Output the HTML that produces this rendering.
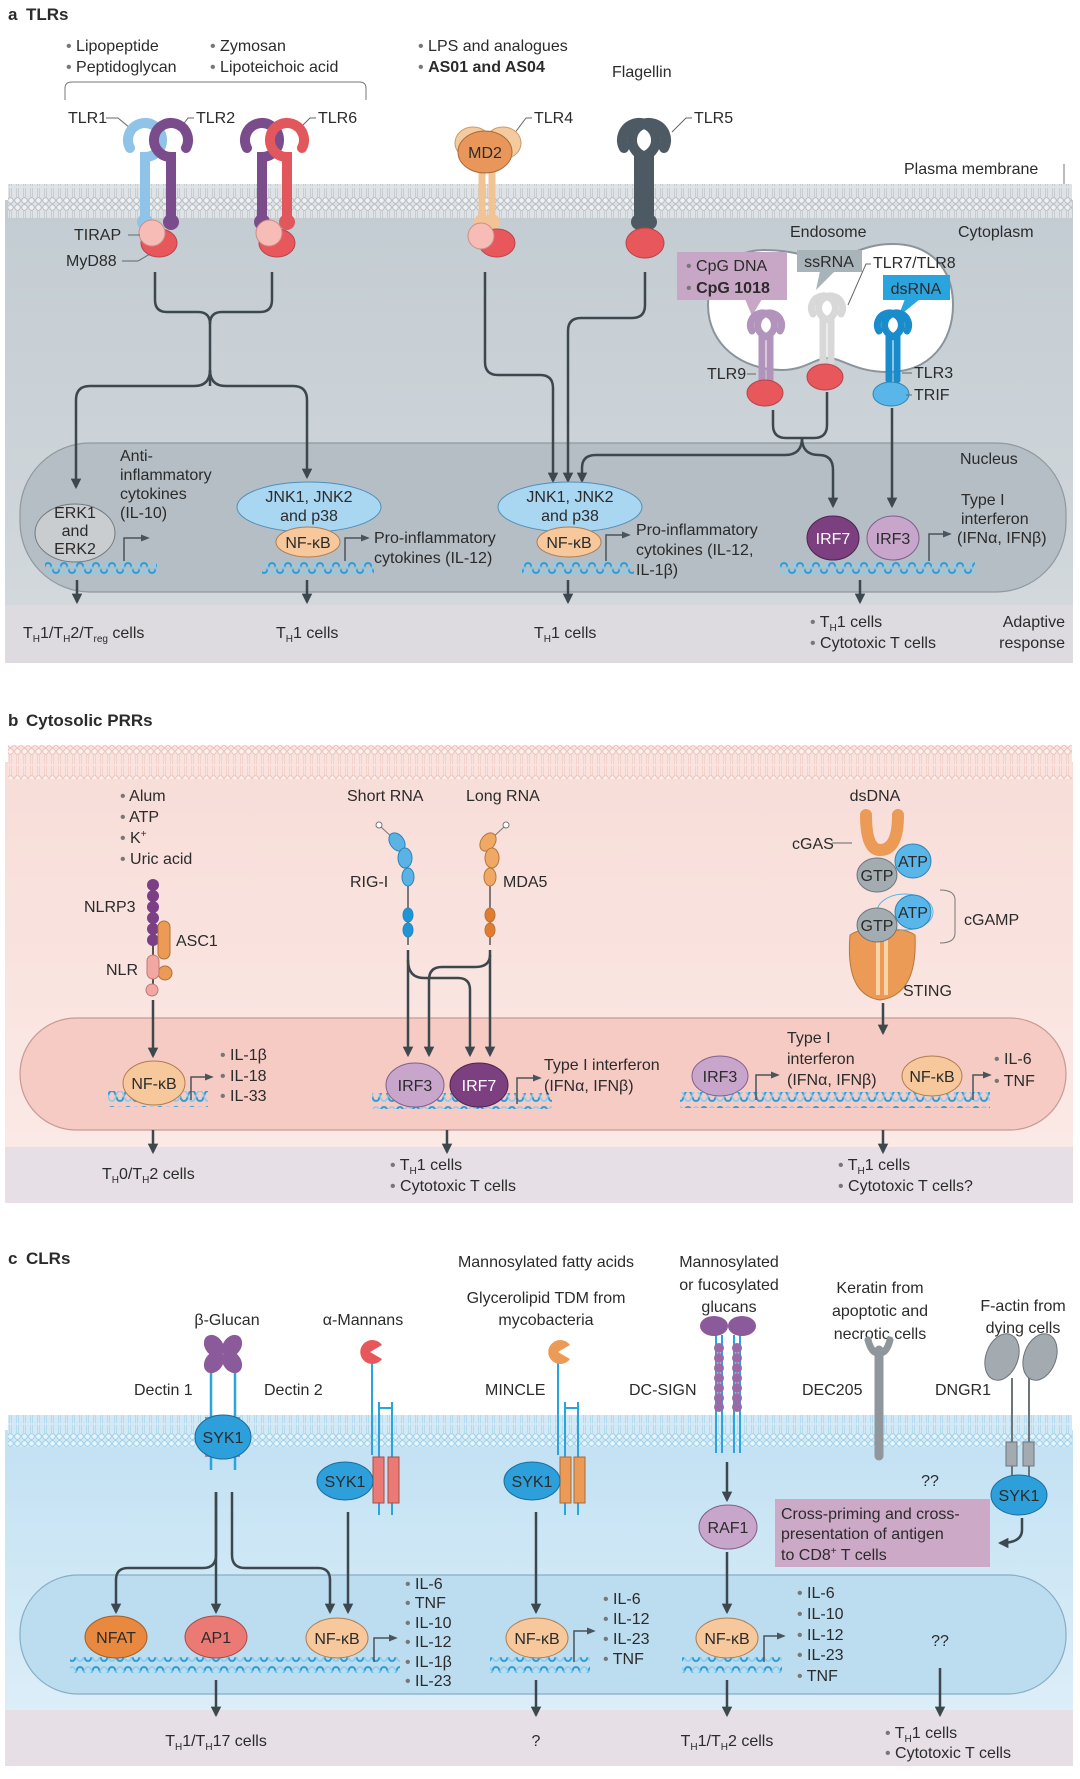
<!DOCTYPE html>
<html><head><meta charset="utf-8"><style>
html,body{margin:0;padding:0;background:#fff;}
svg{display:block;font-family:"Liberation Sans",sans-serif;}
text{fill:#2b2b2b;font-size:16px;}
.h{font-size:17px;font-weight:bold;}
.b{font-weight:bold;}
.c{text-anchor:middle;}
.s{font-size:10px;}
</style></head><body>
<svg width="1080" height="1779" viewBox="0 0 1080 1779" xmlns="http://www.w3.org/2000/svg">
<defs>
<marker id="ar" viewBox="0 0 10 10" refX="8" refY="5" markerWidth="4.2" markerHeight="4.2" orient="auto"><path d="M0,0 L10,5 L0,10 z" fill="#3d474e"/></marker>
<marker id="sa" viewBox="0 0 10 10" refX="8" refY="5" markerWidth="6" markerHeight="6" orient="auto"><path d="M0,1 L10,5 L0,9 z" fill="#4a545b"/></marker>
<pattern id="memA" width="7" height="34" patternUnits="userSpaceOnUse"><rect width="7" height="34" fill="#dfe3e5"/><circle cx="3.5" cy="3.5" r="2.8" fill="#eef0f1" stroke="#aab2b8" stroke-width="0.8"/><circle cx="3.5" cy="30.5" r="2.8" fill="#eef0f1" stroke="#aab2b8" stroke-width="0.8"/><path d="M2.5,7 V16 M4.5,7 V16 M2.5,18 V27 M4.5,18 V27" stroke="#b8bfc4" stroke-width="0.6"/></pattern>
<pattern id="memB" width="7" height="34" patternUnits="userSpaceOnUse"><rect width="7" height="34" fill="#fae3df"/><circle cx="3.5" cy="3.5" r="2.8" fill="#fdf0ed" stroke="#e8b8b0" stroke-width="0.8"/><circle cx="3.5" cy="30.5" r="2.8" fill="#fdf0ed" stroke="#e8b8b0" stroke-width="0.8"/><path d="M2.5,7 V16 M4.5,7 V16 M2.5,18 V27 M4.5,18 V27" stroke="#efc7c0" stroke-width="0.6"/></pattern>
<pattern id="memC" width="7" height="32" patternUnits="userSpaceOnUse"><rect width="7" height="32" fill="#d3eaf6"/><circle cx="3.5" cy="3.5" r="2.8" fill="#e8f4fb" stroke="#8cc8e6" stroke-width="0.8"/><circle cx="3.5" cy="28.5" r="2.8" fill="#e8f4fb" stroke="#8cc8e6" stroke-width="0.8"/><path d="M2.5,7 V15 M4.5,7 V15 M2.5,17 V25 M4.5,17 V25" stroke="#9fd0ea" stroke-width="0.6"/></pattern>
<pattern id="dna" width="16" height="16" patternUnits="userSpaceOnUse"><path d="M0,3 C5,3 3,13 8,13 C13,13 11,3 16,3" fill="none" stroke="#2e9fd8" stroke-width="2"/><path d="M0,13 C5,13 3,3 8,3 C13,3 11,13 16,13" fill="none" stroke="#8ccbeb" stroke-width="1.6"/></pattern>
<linearGradient id="cytA" x1="0" y1="0" x2="0" y2="1"><stop offset="0" stop-color="#c3ccd2"/><stop offset="1" stop-color="#d2d8dc"/></linearGradient>
<linearGradient id="cytB" x1="0" y1="0" x2="0" y2="1"><stop offset="0" stop-color="#f8ddd8"/><stop offset="1" stop-color="#fbe9e6"/></linearGradient>
<linearGradient id="cytC" x1="0" y1="0" x2="0" y2="1"><stop offset="0" stop-color="#c2e1f3"/><stop offset="1" stop-color="#dceef8"/></linearGradient>
</defs>

<!-- ================= A ================= -->
<text x="8" y="20" class="h">a</text><text x="26" y="20" class="h">TLRs</text>
<rect x="5" y="200" width="1068" height="405" fill="url(#cytA)"/>
<rect x="5" y="605" width="1068" height="58" fill="#dedbe0"/>
<rect x="8" y="184" width="1064" height="34" fill="url(#memA)"/>
<text x="904" y="174">Plasma membrane</text>
<path d="M1064,164 V184" stroke="#777" stroke-width="1"/>
<rect x="20" y="443" width="1046" height="149" rx="70" fill="#b5bec5" stroke="#8f999f" stroke-width="1.2"/>
<text x="960" y="464">Nucleus</text>
<text x="958" y="237">Cytoplasm</text>

<text x="66" y="51"><tspan fill="#777">•</tspan> Lipopeptide</text>
<text x="210" y="51"><tspan fill="#777">•</tspan> Zymosan</text>
<text x="66" y="72"><tspan fill="#777">•</tspan> Peptidoglycan</text>
<text x="210" y="72"><tspan fill="#777">•</tspan> Lipoteichoic acid</text>
<path d="M65,100 V88 Q65,82 72,82 H359 Q366,82 366,88 V100" fill="none" stroke="#777" stroke-width="1"/>
<text x="418" y="51"><tspan fill="#777">•</tspan> LPS and analogues</text>
<text x="418" y="72"><tspan fill="#777">•</tspan> <tspan class="b">AS01 and AS04</tspan></text>
<text x="612" y="77">Flagellin</text>

<text x="68" y="123">TLR1</text><path d="M106,118 H118 L130,128" fill="none" stroke="#666" stroke-width="1"/>
<text x="196" y="123">TLR2</text><path d="M194,118 H188 L182,126" fill="none" stroke="#666" stroke-width="1"/>
<text x="318" y="123">TLR6</text><path d="M316,118 H310 L300,128" fill="none" stroke="#666" stroke-width="1"/>
<text x="534" y="123">TLR4</text><path d="M532,118 H526 L514,134" fill="none" stroke="#666" stroke-width="1"/>
<text x="694" y="123">TLR5</text><path d="M692,118 H686 L672,132" fill="none" stroke="#666" stroke-width="1"/>

<!-- TLR1/2 -->
<g fill="none" stroke-linecap="round">
<path d="M145,222 V157 A17,17 0 1 0 130,148" stroke="#8fc3e8" stroke-width="10"/>
<path d="M171,222 V157 A17,17 0 1 1 186,148" stroke="#7b4c8c" stroke-width="10"/>
<path d="M262,222 V157 A17,17 0 1 0 247,148" stroke="#7b4c8c" stroke-width="10"/>
<path d="M287,222 V157 A17,17 0 1 1 302,148" stroke="#e2575b" stroke-width="10"/>
<path d="M639,222 V157 A17,17 0 1 0 624,148" stroke="#4d5a63" stroke-width="10"/>
<path d="M649,222 V157 A17,17 0 1 1 664,148" stroke="#4d5a63" stroke-width="10"/>
<path d="M482,222 V165 M492,222 V165" stroke="#f2c394" stroke-width="7"/>
</g>
<circle cx="145" cy="222" r="8" fill="#8fc3e8"/><circle cx="171" cy="222" r="8" fill="#7b4c8c"/>
<circle cx="262" cy="222" r="8" fill="#7b4c8c"/><circle cx="287" cy="222" r="8" fill="#e2575b"/>
<circle cx="639" cy="222" r="8" fill="#4d5a63"/><circle cx="649" cy="222" r="8" fill="#4d5a63"/>
<circle cx="482" cy="222" r="8" fill="#f2c394"/><circle cx="492" cy="222" r="8" fill="#f2c394"/>
<ellipse cx="473" cy="143" rx="18" ry="16" fill="#f4cb9e" stroke="#c99a6a"/><ellipse cx="503" cy="143" rx="18" ry="16" fill="#f4cb9e" stroke="#c99a6a"/>
<ellipse cx="485" cy="152" rx="27" ry="21" fill="#e8965a" stroke="#a86a38"/>
<text x="485" y="158" class="c">MD2</text>
<ellipse cx="159" cy="243" rx="18" ry="14" fill="#e8575b" stroke="#b64448"/><circle cx="152" cy="233" r="13" fill="#f7bcb5" stroke="#c98f88"/>
<ellipse cx="277" cy="243" rx="18" ry="14" fill="#e8575b" stroke="#b64448"/><circle cx="269" cy="233" r="13" fill="#f7bcb5" stroke="#c98f88"/>
<ellipse cx="497" cy="243" rx="18" ry="14" fill="#e8575b" stroke="#b64448"/><circle cx="481" cy="236" r="13" fill="#f7bcb5" stroke="#c98f88"/>
<ellipse cx="645" cy="243" rx="19" ry="15" fill="#e8575b" stroke="#b64448"/>
<text x="74" y="240">TIRAP</text><path d="M128,235 H140" stroke="#666"/>
<text x="66" y="266">MyD88</text><path d="M122,261 H138 L150,254" fill="none" stroke="#666"/>

<!-- endosome -->
<path d="M765,250 C725,250 708,280 708,305 C708,345 742,370 782,370 C805,370 815,358 828,358 C842,358 855,372 888,372 C930,372 953,342 953,305 C953,268 930,244 893,244 C862,244 850,258 828,258 C805,258 795,250 765,250 Z" fill="#fff" stroke="#8a949b" stroke-width="2"/>
<text x="790" y="237">Endosome</text>
<path d="M745,299 L752,316 L762,299 Z" fill="#c8a6c6"/><rect x="677" y="252" width="110" height="48" fill="#c8a6c6"/>
<text x="686" y="271"><tspan fill="#777">•</tspan> CpG DNA</text>
<text x="686" y="293"><tspan fill="#777">•</tspan> <tspan class="b">CpG 1018</tspan></text>
<path d="M820,271 L816,290 L835,271 Z" fill="#a9b3ba"/><rect x="797" y="250" width="65" height="22" fill="#a9b3ba"/>
<text x="829" y="267" class="c">ssRNA</text>
<path d="M905,299 L898,317 L920,299 Z" fill="#2aa4de"/><rect x="883" y="275" width="67" height="25" fill="#2aa4de"/>
<text x="916" y="294" class="c">dsRNA</text>
<text x="873" y="268">TLR7/TLR8</text><path d="M871,264 H866 L848,305" fill="none" stroke="#666"/>
<g fill="none" stroke-linecap="round">
<path d="M762,380 V337 A12,12 0 1 0 752,331" stroke="#b293bb" stroke-width="7"/>
<path d="M770,380 V337 A12,12 0 1 1 780,331" stroke="#b293bb" stroke-width="7"/>
<path d="M823,362 V320 A12,12 0 1 0 813,314" stroke="#d8d8d8" stroke-width="7"/>
<path d="M831,362 V320 A12,12 0 1 1 841,314" stroke="#d8d8d8" stroke-width="7"/>
<path d="M889,380 V337 A12,12 0 1 0 879,331" stroke="#1a8ccc" stroke-width="7"/>
<path d="M897,380 V337 A12,12 0 1 1 907,331" stroke="#1a8ccc" stroke-width="7"/>
</g>
<ellipse cx="765" cy="393" rx="18" ry="13" fill="#e8575b" stroke="#b64448"/>
<ellipse cx="825" cy="377" rx="18" ry="13" fill="#e8575b" stroke="#b64448"/>
<ellipse cx="891" cy="394" rx="18" ry="12" fill="#5ab5e8" stroke="#2b85b8"/>
<text x="707" y="379">TLR9</text><path d="M747,374 H756" stroke="#666"/>
<text x="914" y="378">TLR3</text><path d="M902,373 H912" stroke="#666"/>
<text x="914" y="400">TRIF</text><path d="M906,395 H912" stroke="#666"/>

<!-- arrows A -->
<g fill="none" stroke="#3d474e" stroke-width="2.5">
<path d="M155,272 V300 Q155,312 167,312 H198 Q210,312 210,324 V386"/>
<path d="M272,272 V300 Q272,312 260,312 H222 Q210,312 210,324"/>
<path d="M210,370 Q210,386 194,386 H90 Q76,386 76,400 V487" marker-end="url(#ar)"/>
<path d="M210,370 Q210,386 226,386 H293 Q307,386 307,400 V477" marker-end="url(#ar)"/>
<path d="M485,272 V362 Q485,375 498,375 H540 Q553,375 553,388 V481" marker-end="url(#ar)"/>
<path d="M645,272 V305 Q645,318 632,318 H581 Q568,318 568,331 V481" marker-end="url(#ar)"/>
<path d="M773,410 V425 Q773,438 786,438 H802"/>
<path d="M827,392 V425 Q827,438 814,438 H802"/>
<path d="M802,438 Q802,455 785,455 H596 Q582,455 582,468 V481" marker-end="url(#ar)"/>
<path d="M802,438 Q802,455 819,455 Q833,455 833,470 V506" marker-end="url(#ar)"/>
<path d="M892,408 V506" marker-end="url(#ar)"/>
<path d="M77,580 V602" marker-end="url(#ar)"/>
<path d="M307,580 V602" marker-end="url(#ar)"/>
<path d="M568,580 V602" marker-end="url(#ar)"/>
<path d="M860,580 V602" marker-end="url(#ar)"/>
</g>
<!-- nucleus A contents -->
<rect x="45" y="561" width="112" height="16" fill="url(#dna)"/>
<rect x="262" y="561" width="112" height="16" fill="url(#dna)"/>
<rect x="522" y="561" width="112" height="16" fill="url(#dna)"/>
<rect x="780" y="561" width="195" height="16" fill="url(#dna)"/>
<ellipse cx="75" cy="533" rx="40" ry="29" fill="#c9cdd0" stroke="#6f777c"/>
<text x="75" y="518" class="c">ERK1</text><text x="75" y="536" class="c">and</text><text x="75" y="554" class="c">ERK2</text>
<text x="120" y="461">Anti-</text><text x="120" y="480">inflammatory</text><text x="120" y="499">cytokines</text><text x="120" y="518">(IL-10)</text>
<path d="M124,561 V538 H148" fill="none" stroke="#4a545b" stroke-width="1.5" marker-end="url(#sa)"/>
<ellipse cx="309" cy="507" rx="72" ry="25" fill="#a9d6f1" stroke="#4f8fb8"/>
<text x="309" y="502" class="c">JNK1, JNK2</text><text x="309" y="521" class="c">and p38</text>
<ellipse cx="308" cy="542" rx="32" ry="15" fill="#f6c89c" stroke="#b07c4f"/><text x="308" y="548" class="c">NF-κB</text>
<path d="M345,561 V538 H368" fill="none" stroke="#4a545b" stroke-width="1.5" marker-end="url(#sa)"/>
<text x="374" y="543">Pro-inflammatory</text><text x="374" y="563">cytokines (IL-12)</text>
<ellipse cx="570" cy="507" rx="72" ry="25" fill="#a9d6f1" stroke="#4f8fb8"/>
<text x="570" y="502" class="c">JNK1, JNK2</text><text x="570" y="521" class="c">and p38</text>
<ellipse cx="569" cy="542" rx="32" ry="15" fill="#f6c89c" stroke="#b07c4f"/><text x="569" y="548" class="c">NF-κB</text>
<path d="M606,561 V535 H629" fill="none" stroke="#4a545b" stroke-width="1.5" marker-end="url(#sa)"/>
<text x="636" y="535">Pro-inflammatory</text><text x="636" y="555">cytokines (IL-12,</text><text x="636" y="575">IL-1β)</text>
<ellipse cx="833" cy="538" rx="26" ry="22" fill="#7c3f80" stroke="#4e2551"/><text x="833" y="544" class="c" style="fill:#fff">IRF7</text>
<ellipse cx="893" cy="538" rx="26" ry="22" fill="#c8a6cc" stroke="#80608a"/><text x="893" y="544" class="c">IRF3</text>
<path d="M929,561 V534 H950" fill="none" stroke="#4a545b" stroke-width="1.5" marker-end="url(#sa)"/>
<text x="961" y="505">Type I</text><text x="961" y="524">interferon</text><text x="957" y="543">(IFNα, IFNβ)</text>
<!-- band A labels -->
<text x="23" y="638">T<tspan class="s" dy="4">H</tspan><tspan dy="-4">1/T</tspan><tspan class="s" dy="4">H</tspan><tspan dy="-4">2/T</tspan><tspan class="s" dy="4">reg</tspan><tspan dy="-4"> cells</tspan></text>
<text x="276" y="638">T<tspan class="s" dy="4">H</tspan><tspan dy="-4">1 cells</tspan></text>
<text x="534" y="638">T<tspan class="s" dy="4">H</tspan><tspan dy="-4">1 cells</tspan></text>
<text x="810" y="627"><tspan fill="#777">•</tspan> T<tspan class="s" dy="4">H</tspan><tspan dy="-4">1 cells</tspan></text>
<text x="810" y="648"><tspan fill="#777">•</tspan> Cytotoxic T cells</text>
<text x="1065" y="627" style="text-anchor:end">Adaptive</text><text x="1065" y="648" style="text-anchor:end">response</text>

<!-- ================= B ================= -->
<text x="8" y="726" class="h">b</text><text x="26" y="726" class="h">Cytosolic PRRs</text>
<rect x="5" y="762" width="1068" height="385" fill="url(#cytB)"/>
<rect x="5" y="1147" width="1068" height="56" fill="#e6e0e6"/>
<rect x="8" y="745" width="1064" height="34" fill="url(#memB)"/>
<rect x="20" y="1018" width="1046" height="112" rx="56" fill="#f6cbc4" stroke="#c69a95" stroke-width="1.2"/>

<text x="120" y="801"><tspan fill="#777">•</tspan> Alum</text>
<text x="120" y="822"><tspan fill="#777">•</tspan> ATP</text>
<text x="120" y="843"><tspan fill="#777">•</tspan> K<tspan class="s" dy="-6">+</tspan></text>
<text x="120" y="864"><tspan fill="#777">•</tspan> Uric acid</text>
<path d="M153,885 V990" stroke="#222" stroke-width="1.5"/>
<g fill="#7b3f86"><circle cx="153" cy="885" r="6"/><circle cx="153" cy="896" r="6"/><circle cx="153" cy="907" r="6"/><circle cx="153" cy="918" r="6"/><circle cx="153" cy="929" r="6"/><circle cx="153" cy="940" r="6"/></g>
<rect x="158" y="921" width="12" height="38" rx="6" fill="#eb9b55" stroke="#b26f34"/>
<circle cx="165" cy="973" r="7" fill="#eb9b55" stroke="#b26f34"/>
<rect x="147" y="955" width="12" height="24" rx="6" fill="#f2a7a3" stroke="#c07a77"/>
<circle cx="152" cy="990" r="6" fill="#f2a7a3" stroke="#c07a77"/>
<text x="84" y="912">NLRP3</text><text x="176" y="946">ASC1</text><text x="106" y="975">NLR</text>
<path d="M153,1000 V1056" stroke="#3d474e" stroke-width="2.5" marker-end="url(#ar)"/>
<rect x="108" y="1091" width="100" height="16" fill="url(#dna)"/>
<ellipse cx="154" cy="1083" rx="31" ry="22" fill="#f6c89c" stroke="#b07c4f"/><text x="154" y="1089" class="c">NF-κB</text>
<path d="M191,1100 V1077 H212" fill="none" stroke="#4a545b" stroke-width="1.5" marker-end="url(#sa)"/>
<text x="220" y="1060"><tspan fill="#777">•</tspan> IL-1β</text>
<text x="220" y="1081"><tspan fill="#777">•</tspan> IL-18</text>
<text x="220" y="1101"><tspan fill="#777">•</tspan> IL-33</text>

<text x="347" y="801">Short RNA</text><text x="466" y="801">Long RNA</text>
<text x="350" y="887">RIG-I</text><text x="503" y="887">MDA5</text>
<path d="M380,826 L395,840 M505,826 L490,840" stroke="#777" stroke-width="1"/>
<circle cx="379" cy="825" r="3" fill="#fff" stroke="#777"/><circle cx="506" cy="825" r="3" fill="#fff" stroke="#777"/>
<path d="M408,880 V945 M490,880 V945" stroke="#555" stroke-width="1.5"/>
<g fill="#5bb3e5" stroke="#2b85b8"><ellipse cx="397" cy="842" rx="7" ry="10" transform="rotate(-35 397 842)"/><ellipse cx="405" cy="858" rx="7" ry="10"/><ellipse cx="408" cy="877" rx="6" ry="9"/><ellipse cx="408" cy="915" rx="5" ry="7" fill="#1e95d6"/><ellipse cx="408" cy="930" rx="5" ry="7" fill="#1e95d6"/></g>
<g fill="#f0a865" stroke="#b8763c"><ellipse cx="488" cy="842" rx="7" ry="10" transform="rotate(35 488 842)"/><ellipse cx="492" cy="858" rx="7" ry="10"/><ellipse cx="490" cy="877" rx="6" ry="9"/><ellipse cx="490" cy="915" rx="5" ry="7" fill="#e07b30"/><ellipse cx="490" cy="930" rx="5" ry="7" fill="#e07b30"/></g>
<g fill="none" stroke="#3d474e" stroke-width="2.5">
<path d="M408,950 V1055" marker-end="url(#ar)"/>
<path d="M490,950 V1055" marker-end="url(#ar)"/>
<path d="M408,960 Q408,978 424,978 H458 Q470,978 470,990 V1055" marker-end="url(#ar)"/>
<path d="M490,955 Q490,967 475,967 H442 Q429,967 429,980 V1055" marker-end="url(#ar)"/>
<path d="M153,1130 V1152" marker-end="url(#ar)"/>
<path d="M447,1130 V1152" marker-end="url(#ar)"/>
<path d="M883,1130 V1152" marker-end="url(#ar)"/>
<path d="M883,1003 V1033" marker-end="url(#ar)"/>
</g>
<rect x="372" y="1093" width="180" height="16" fill="url(#dna)"/>
<ellipse cx="415" cy="1085" rx="29" ry="22" fill="#c8a6cc" stroke="#80608a"/><text x="415" y="1091" class="c">IRF3</text>
<ellipse cx="479" cy="1085" rx="29" ry="22" fill="#7c3f80" stroke="#4e2551"/><text x="479" y="1091" class="c" style="fill:#fff">IRF7</text>
<path d="M517,1104 V1078 H540" fill="none" stroke="#4a545b" stroke-width="1.5" marker-end="url(#sa)"/>
<text x="544" y="1070">Type I interferon</text><text x="544" y="1091">(IFNα, IFNβ)</text>

<text x="875" y="801" class="c">dsDNA</text>
<path d="M866,815 Q866,850 880,850 Q898,850 898,815" fill="none" stroke="#eb9b55" stroke-width="12" stroke-linecap="round"/>
<text x="792" y="849">cGAS</text><path d="M832,843 H852" stroke="#666"/>
<ellipse cx="913" cy="861" rx="18" ry="17" fill="#5ab5e8" stroke="#2b85b8"/><text x="913" y="867" class="c">ATP</text>
<ellipse cx="877" cy="875" rx="20" ry="17" fill="#a3acb1" stroke="#6c757a"/><text x="877" y="881" class="c">GTP</text>
<path d="M850,935 Q845,995 880,1000 Q918,995 915,935 Q900,925 882,935 Q865,925 850,935 Z" fill="#eb9b55" stroke="#b8763c"/>
<path d="M878,940 V995 M886,940 V995" stroke="#f7d3a8" stroke-width="4"/>
<ellipse cx="905" cy="912" rx="28" ry="18" fill="none" stroke="#5ab5e8" stroke-width="1"/>
<ellipse cx="913" cy="912" rx="18" ry="17" fill="#5ab5e8" stroke="#2b85b8"/><text x="913" y="918" class="c">ATP</text>
<ellipse cx="877" cy="925" rx="20" ry="17" fill="#a3acb1" stroke="#6c757a"/><text x="877" y="931" class="c">GTP</text>
<path d="M940,890 Q955,890 955,900 V933 Q955,943 940,943" fill="none" stroke="#777"/>
<text x="964" y="925">cGAMP</text>
<text x="903" y="996">STING</text>
<rect x="680" y="1092" width="310" height="16" fill="url(#dna)"/>
<ellipse cx="720" cy="1076" rx="28" ry="20" fill="#c8a6cc" stroke="#80608a"/><text x="720" y="1082" class="c">IRF3</text>
<path d="M756,1100 V1075 H778" fill="none" stroke="#4a545b" stroke-width="1.5" marker-end="url(#sa)"/>
<text x="787" y="1043">Type I</text><text x="787" y="1064">interferon</text><text x="787" y="1085">(IFNα, IFNβ)</text>
<ellipse cx="932" cy="1076" rx="30" ry="20" fill="#f6c89c" stroke="#b07c4f"/><text x="932" y="1082" class="c">NF-κB</text>
<path d="M973,1100 V1075 H990" fill="none" stroke="#4a545b" stroke-width="1.5" marker-end="url(#sa)"/>
<text x="994" y="1064"><tspan fill="#777">•</tspan> IL-6</text><text x="994" y="1086"><tspan fill="#777">•</tspan> TNF</text>

<text x="102" y="1179">T<tspan class="s" dy="4">H</tspan><tspan dy="-4">0/T</tspan><tspan class="s" dy="4">H</tspan><tspan dy="-4">2 cells</tspan></text>
<text x="390" y="1170"><tspan fill="#777">•</tspan> T<tspan class="s" dy="4">H</tspan><tspan dy="-4">1 cells</tspan></text>
<text x="390" y="1191"><tspan fill="#777">•</tspan> Cytotoxic T cells</text>
<text x="838" y="1170"><tspan fill="#777">•</tspan> T<tspan class="s" dy="4">H</tspan><tspan dy="-4">1 cells</tspan></text>
<text x="838" y="1191"><tspan fill="#777">•</tspan> Cytotoxic T cells?</text>

<!-- ================= C ================= -->
<text x="8" y="1264" class="h">c</text><text x="26" y="1264" class="h">CLRs</text>
<rect x="5" y="1430" width="1068" height="282" fill="url(#cytC)"/>
<rect x="5" y="1710" width="1068" height="56" fill="#e6e0e6"/>
<rect x="8" y="1415" width="1064" height="32" fill="url(#memC)"/>
<rect x="20" y="1575" width="1046" height="119" rx="58" fill="#bcdcf0" stroke="#88adc4" stroke-width="1.2"/>

<text x="546" y="1267" class="c">Mannosylated fatty acids</text>
<text x="546" y="1303" class="c">Glycerolipid TDM from</text><text x="546" y="1325" class="c">mycobacteria</text>
<text x="729" y="1267" class="c">Mannosylated</text><text x="729" y="1290" class="c">or fucosylated</text><text x="729" y="1312" class="c">glucans</text>
<text x="880" y="1293" class="c">Keratin from</text><text x="880" y="1316" class="c">apoptotic and</text><text x="880" y="1339" class="c">necrotic cells</text>
<text x="1023" y="1311" class="c">F-actin from</text><text x="1023" y="1333" class="c">dying cells</text>
<text x="227" y="1325" class="c">β-Glucan</text>
<text x="363" y="1325" class="c">α-Mannans</text>
<text x="134" y="1395">Dectin 1</text><text x="264" y="1395">Dectin 2</text><text x="485" y="1395">MINCLE</text>
<text x="629" y="1395">DC-SIGN</text><text x="802" y="1395">DEC205</text><text x="935" y="1395">DNGR1</text>

<!-- Dectin1 -->
<path d="M211,1362 V1470 M235,1362 V1470" stroke="#2aa4de" stroke-width="2.5"/>
<g fill="#8a5a9a"><ellipse cx="214" cy="1346" rx="9" ry="12" transform="rotate(-35 214 1346)"/><ellipse cx="232" cy="1346" rx="9" ry="12" transform="rotate(35 232 1346)"/><ellipse cx="214" cy="1362" rx="9" ry="12" transform="rotate(35 214 1362)"/><ellipse cx="232" cy="1362" rx="9" ry="12" transform="rotate(-35 232 1362)"/></g>
<rect x="205" y="1417" width="10" height="40" fill="#a08aa8"/><rect x="230" y="1417" width="10" height="40" fill="#a08aa8"/>
<ellipse cx="223" cy="1437" rx="28" ry="22" fill="#2d9fdb" stroke="#1a6d9c"/><text x="223" y="1443" class="c">SYK1</text>
<!-- Dectin2 -->
<path d="M372,1362 V1455 M379,1402 V1515 M392,1402 V1515 M379,1408 H392" stroke="#2aa4de" stroke-width="2" fill="none"/>
<path d="M370,1352 L382,1345 A12,12 0 1 0 382,1359 Z" fill="#e8575b"/>
<rect x="373" y="1457" width="11" height="46" fill="#ec7a74" stroke="#a64c48"/><rect x="388" y="1457" width="11" height="46" fill="#ec7a74" stroke="#a64c48"/>
<ellipse cx="345" cy="1481" rx="28" ry="19" fill="#2d9fdb" stroke="#1a6d9c"/><text x="345" y="1487" class="c">SYK1</text>
<!-- MINCLE -->
<path d="M558,1362 V1455 M565,1402 V1515 M578,1402 V1515 M565,1408 H578" stroke="#2aa4de" stroke-width="2" fill="none"/>
<path d="M558,1352 L570,1345 A12,12 0 1 0 570,1359 Z" fill="#eb9b55"/>
<rect x="560" y="1457" width="11" height="46" fill="#eb9b55" stroke="#a86a38"/><rect x="574" y="1457" width="11" height="46" fill="#eb9b55" stroke="#a86a38"/>
<ellipse cx="532" cy="1481" rx="28" ry="19" fill="#2d9fdb" stroke="#1a6d9c"/><text x="532" y="1487" class="c">SYK1</text>
<!-- DC-SIGN -->
<path d="M716,1335 V1453 M722,1335 V1453 M734,1335 V1453 M740,1335 V1453" stroke="#2aa4de" stroke-width="2"/>
<g fill="#8a5a9a"><ellipse cx="714" cy="1326" rx="14" ry="10"/><ellipse cx="742" cy="1326" rx="14" ry="10"/></g>
<g fill="#9a6aa6">
<circle cx="719" cy="1348" r="5"/><circle cx="719" cy="1358" r="5"/><circle cx="719" cy="1368" r="5"/><circle cx="719" cy="1378" r="5"/><circle cx="719" cy="1388" r="5"/><circle cx="719" cy="1398" r="5"/><circle cx="719" cy="1407" r="5"/>
<circle cx="737" cy="1348" r="5"/><circle cx="737" cy="1358" r="5"/><circle cx="737" cy="1368" r="5"/><circle cx="737" cy="1378" r="5"/><circle cx="737" cy="1388" r="5"/><circle cx="737" cy="1398" r="5"/><circle cx="737" cy="1407" r="5"/></g>
<ellipse cx="728" cy="1527" rx="29" ry="22" fill="#c8a6cc" stroke="#80608a"/><text x="728" y="1533" class="c">RAF1</text>
<!-- DEC205 -->
<path d="M879,1350 V1456" stroke="#8f979c" stroke-width="9" stroke-linecap="round"/>
<path d="M868,1340 Q872,1355 879,1352 Q886,1355 890,1340" fill="none" stroke="#8f979c" stroke-width="7" stroke-linecap="round"/>
<text x="930" y="1486" class="c">??</text>
<!-- DNGR1 -->
<ellipse cx="1002" cy="1357" rx="16" ry="24" fill="#a3abb0" stroke="#6c757a" transform="rotate(20 1002 1357)"/>
<ellipse cx="1040" cy="1357" rx="16" ry="24" fill="#a3abb0" stroke="#6c757a" transform="rotate(20 1040 1357)"/>
<path d="M1012,1378 V1480 M1029,1378 V1480" stroke="#6c757a" stroke-width="2"/>
<rect x="1006" y="1442" width="11" height="24" fill="#a3abb0" stroke="#6c757a"/><rect x="1023" y="1442" width="11" height="24" fill="#a3abb0" stroke="#6c757a"/>
<ellipse cx="1019" cy="1495" rx="28" ry="20" fill="#2d9fdb" stroke="#1a6d9c"/><text x="1019" y="1501" class="c">SYK1</text>
<rect x="775" y="1499" width="215" height="68" fill="#cda9c8"/>
<text x="781" y="1519">Cross-priming and cross-</text><text x="781" y="1539">presentation of antigen</text><text x="781" y="1560">to CD8<tspan class="s" dy="-6">+</tspan><tspan dy="6"> T cells</tspan></text>
<path d="M1022,1518 V1530 Q1022,1543 1000,1543" fill="none" stroke="#3d474e" stroke-width="2.5" marker-end="url(#ar)"/>

<!-- arrows C -->
<g fill="none" stroke="#3d474e" stroke-width="2.5">
<path d="M216,1492 V1555 Q216,1568 203,1568 H128 Q116,1568 116,1580 V1612" marker-end="url(#ar)"/>
<path d="M216,1492 V1612" marker-end="url(#ar)"/>
<path d="M232,1492 V1555 Q232,1568 245,1568 H318 Q330,1568 330,1580 V1612" marker-end="url(#ar)"/>
<path d="M348,1512 V1612" marker-end="url(#ar)"/>
<path d="M536,1512 V1612" marker-end="url(#ar)"/>
<path d="M727,1462 V1500" marker-end="url(#ar)"/>
<path d="M727,1552 V1612" marker-end="url(#ar)"/>
<path d="M216,1680 V1715" marker-end="url(#ar)"/>
<path d="M536,1680 V1715" marker-end="url(#ar)"/>
<path d="M727,1680 V1715" marker-end="url(#ar)"/>
<path d="M940,1668 V1715" marker-end="url(#ar)"/>
</g>
<rect x="70" y="1657" width="330" height="16" fill="url(#dna)"/>
<rect x="490" y="1657" width="100" height="16" fill="url(#dna)"/>
<rect x="682" y="1657" width="100" height="16" fill="url(#dna)"/>
<ellipse cx="116" cy="1637" rx="31" ry="21" fill="#e8893f" stroke="#a35e25"/><text x="116" y="1643" class="c">NFAT</text>
<ellipse cx="216" cy="1637" rx="31" ry="21" fill="#ec7a74" stroke="#a64c48"/><text x="216" y="1643" class="c">AP1</text>
<ellipse cx="337" cy="1638" rx="31" ry="20" fill="#f6c89c" stroke="#b07c4f"/><text x="337" y="1644" class="c">NF-κB</text>
<path d="M374,1662 V1638 H396" fill="none" stroke="#4a545b" stroke-width="1.5" marker-end="url(#sa)"/>
<text x="405" y="1589"><tspan fill="#777">•</tspan> IL-6</text><text x="405" y="1608"><tspan fill="#777">•</tspan> TNF</text><text x="405" y="1628"><tspan fill="#777">•</tspan> IL-10</text><text x="405" y="1647"><tspan fill="#777">•</tspan> IL-12</text><text x="405" y="1667"><tspan fill="#777">•</tspan> IL-1β</text><text x="405" y="1686"><tspan fill="#777">•</tspan> IL-23</text>
<ellipse cx="537" cy="1638" rx="31" ry="20" fill="#f6c89c" stroke="#b07c4f"/><text x="537" y="1644" class="c">NF-κB</text>
<path d="M574,1662 V1631 H594" fill="none" stroke="#4a545b" stroke-width="1.5" marker-end="url(#sa)"/>
<text x="603" y="1604"><tspan fill="#777">•</tspan> IL-6</text><text x="603" y="1624"><tspan fill="#777">•</tspan> IL-12</text><text x="603" y="1644"><tspan fill="#777">•</tspan> IL-23</text><text x="603" y="1664"><tspan fill="#777">•</tspan> TNF</text>
<ellipse cx="727" cy="1638" rx="31" ry="20" fill="#f6c89c" stroke="#b07c4f"/><text x="727" y="1644" class="c">NF-κB</text>
<path d="M764,1662 V1636 H784" fill="none" stroke="#4a545b" stroke-width="1.5" marker-end="url(#sa)"/>
<text x="797" y="1598"><tspan fill="#777">•</tspan> IL-6</text><text x="797" y="1619"><tspan fill="#777">•</tspan> IL-10</text><text x="797" y="1640"><tspan fill="#777">•</tspan> IL-12</text><text x="797" y="1660"><tspan fill="#777">•</tspan> IL-23</text><text x="797" y="1681"><tspan fill="#777">•</tspan> TNF</text>
<text x="940" y="1646" class="c">??</text>

<text x="216" y="1746" class="c">T<tspan class="s" dy="4">H</tspan><tspan dy="-4">1/T</tspan><tspan class="s" dy="4">H</tspan><tspan dy="-4">17 cells</tspan></text>
<text x="536" y="1746" class="c">?</text>
<text x="727" y="1746" class="c">T<tspan class="s" dy="4">H</tspan><tspan dy="-4">1/T</tspan><tspan class="s" dy="4">H</tspan><tspan dy="-4">2 cells</tspan></text>
<text x="885" y="1738"><tspan fill="#777">•</tspan> T<tspan class="s" dy="4">H</tspan><tspan dy="-4">1 cells</tspan></text>
<text x="885" y="1758"><tspan fill="#777">•</tspan> Cytotoxic T cells</text>
</svg>
</body></html>
